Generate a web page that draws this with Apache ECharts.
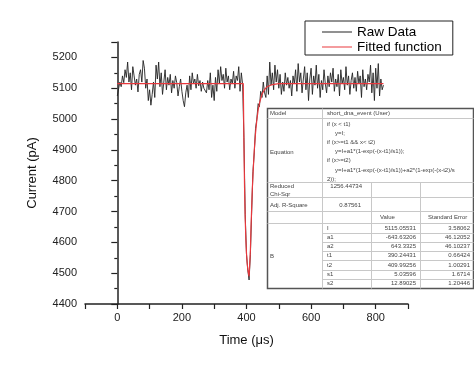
<!DOCTYPE html>
<html>
<head>
<meta charset="utf-8">
<script src="https://cdn.jsdelivr.net/npm/echarts@6/dist/echarts.min.js"></script>
<style>
html,body{margin:0;padding:0;background:#fff;}
#chart{width:474px;height:365px;}
</style>
</head>
<body>
<div id="chart"></div>
<script>
// ---- data ----
var rawStep = 4; // µs between samples, starting at 0
var rawValues = [
5075,5098,5120,5105,5140,5118,5160,5135,5185,5120,
5150,5095,5170,5140,5110,5130,5088,5145,5160,5120,
5190,5165,5100,5130,5060,5095,5045,5080,5120,5070,
5175,5130,5185,5105,5150,5080,5120,5160,5095,5135,
5110,5145,5085,5125,5100,5140,5118,5075,5105,5130,
5090,5060,5040,5085,5110,5070,5140,5095,5150,5115,
5130,5100,5145,5108,5125,5090,5120,5100,5105,5085,
5125,5095,5150,5070,5110,5060,5135,5090,5160,5115,
5170,5125,5145,5100,5165,5120,5140,5095,5130,5115,
5155,5100,5140,5125,5170,5090,5150,
5112,
4940,4690,4560,4510,4478,4560,4700,4830,4890,4970,5000,5050,5040,5090,5070,5120,
5085,5070,5140,5080,5185,5110,5150,5095,5175,5120,5160,
5100,5145,5080,5120,5090,5150,5110,5135,5100,5125,
5075,5140,5115,5160,5090,5180,5120,5150,5085,5130,
5170,5095,5150,5060,5130,5165,5080,5140,5110,5175,
5100,5145,5070,5125,5095,5160,5115,5085,5140,5105,
5150,5120,5165,5090,5130,5105,5145,5075,5160,5115,
5135,5095,5170,5110,5140,5080,5125,5150,5100,5135,
5090,5155,5115,5140,5070,5160,5105,5130,5095,5145,
5120,5175,5085,5150,5060,5165,5100,5180,5075,5130,
5095,5110
];
var fitTimes  = [0,390,392,394,396,398,400,402,404,406,408,410,412,414,416,418,420,424,428,432,436,440,448,456,464,480,500,824];
var fitValues = [5115,5115,4927,4776,4677,4609,4564,4534,4513,4500,4490,4484,4572,4649,4711,4772,4819,4898,4955,4997,5029,5051,5081,5096,5105,5112,5115,5115];
var seriesNames = ['Raw Data','Fitted function'];

// table content
var modelRow = ['Model','short_dna_event (User)'];
var equationLabel = 'Equation';
var equationLines = [
'if (x < t1)',
'    y=I;',
'if (x>=t1 && x< t2)',
'    y=I+a1*(1-exp(-(x-t1)/s1));',
'if (x>=t2)',
'    y=I+a1*(1-exp(-(x-t1)/s1))+a2*(1-exp(-(x-t2)/s',
'2));'
];
var chiLabel = ['Reduced','Chi-Sqr'];
var chiValue = '1256.44734';
var r2Label = 'Adj. R-Square';
var r2Value = '0.87561';
var headerCols = ['Value','Standard Error'];
var groupLabel = 'B';
var paramNames = ['I','a1','a2','t1','t2','s1','s2'];
var paramValues = ['5115.05531','-643.63206','643.3325','390.24431','409.99256','5.03596','12.89025'];
var paramErrors = ['3.58062','46.12052','46.10237','0.66424','1.00291','1.6714','1.20446'];

// ---- build ----
var rawData = rawValues.map(function(v,i){ return [i*rawStep, v]; });
var fitData = fitTimes.map(function(t,i){ return [t, fitValues[i]]; });

var FONT = 'Liberation Sans, Arial, sans-serif';
var TF = '6px Liberation Sans, Arial, sans-serif';
var TC = '#444';
var tbl = [];
function txt(s, x, y, align){
  tbl.push({type:'text', z:101, style:{text:s, x:x, y:y, font:TF, fill:TC, textAlign:align||'left', textVerticalAlign:'middle', verticalAlign:'middle'}});
}
function ln(x1,y1,x2,y2,c,w){
  tbl.push({type:'line', z:101, shape:{x1:x1,y1:y1,x2:x2,y2:y2}, style:{stroke:c||'#c8c8c8', lineWidth:w||1}});
}
var L=267.5, R=473.5, T=108.5, B=288.5, C1=322.5, C2=371.5, C3=420.5;
tbl.push({type:'rect', z:100, shape:{x:L,y:T,width:R-L,height:B-T}, style:{fill:'#fff', stroke:'#555', lineWidth:1.5}});
// horizontal lines
var rowModelB=118.5, rowEqB=182.5, rowChiB=197.5, rowR2B=211.5, rowHeadB=223.5, rowH=9.2;
ln(L,rowModelB,R,rowModelB);
ln(L,rowEqB,R,rowEqB);
ln(L,rowChiB,R,rowChiB);
ln(L,rowR2B,R,rowR2B);
ln(L,rowHeadB,R,rowHeadB);
for(var k=1;k<paramNames.length;k++){ var yy=Math.round(rowHeadB+k*rowH)+0.5; ln(C1,yy,R,yy); }
// vertical lines
ln(C1,T,C1,B);
ln(C2,rowEqB,C2,B);
ln(C3,rowEqB,C3,B);
// texts
txt(modelRow[0],270,113.5);
txt(modelRow[1],327,113.5);
for(var e=0;e<equationLines.length;e++){ txt(equationLines[e].replace(/^ {4}/,''), equationLines[e].indexOf('    ')===0?335:327, 124+e*9.2); }
txt(equationLabel,270,152);
txt(chiLabel[0],270,186);
txt(chiLabel[1],270,194.5);
txt(chiValue,362,186,'right');
txt(r2Label,270,205);
txt(r2Value,361,205,'right');
txt(headerCols[0],380,217.5);
txt(headerCols[1],428,217.5);
txt(groupLabel,270,256);
for(var p=0;p<paramNames.length;p++){
  var cy = rowHeadB + rowH*(p+0.5);
  txt(paramNames[p],327,cy);
  txt(paramValues[p],416,cy,'right');
  txt(paramErrors[p],470,cy,'right');
}

var chart = echarts.init(document.getElementById('chart'), null, {renderer:'canvas'});
chart.setOption({
  animation:false,
  backgroundColor:'#fff',
  grid:{left:85,right:66,top:42,bottom:61,containLabel:false},
  legend:{
    data:seriesNames, orient:'vertical', left:305, top:21,
    icon:'rect', itemWidth:30, itemHeight:1, itemGap:1, padding:[4,11,1,17],
    borderColor:'#222', borderWidth:1, backgroundColor:'#fff',
    textStyle:{fontFamily:FONT, fontSize:13.5, color:'#000', lineHeight:14}
  },
  xAxis:{
    type:'value', min:-100, max:900, interval:100,
    name:'Time (\u03bcs)', nameLocation:'middle', nameGap:30,
    nameTextStyle:{fontFamily:FONT, fontSize:13, color:'#111'},
    axisLine:{lineStyle:{color:'#222', width:1.5}},
    axisTick:{inside:false, length:5, lineStyle:{color:'#222', width:1.2}},
    axisLabel:{margin:8, fontFamily:FONT, fontSize:11, color:'#222',
      formatter:function(v){ return (v%200===0 && v>=0 && v<=800) ? String(v) : ''; }},
    splitLine:{show:false}
  },
  yAxis:{
    type:'value', min:4400, max:5250, interval:100,
    name:'Current (pA)', nameLocation:'middle', nameGap:46,
    nameTextStyle:{fontFamily:FONT, fontSize:13, color:'#111'},
    axisLine:{show:true, lineStyle:{color:'#222', width:1.5}},
    axisTick:{show:true, inside:false, length:6, lineStyle:{color:'#222', width:1.2}},
    minorTick:{show:true, splitNumber:2, length:3, lineStyle:{color:'#222', width:1.2}},
    axisLabel:{margin:8, fontFamily:FONT, fontSize:11, color:'#222',
      formatter:function(v){ return v<=5200 ? String(v) : ''; }},
    splitLine:{show:false}
  },
  series:[
    {name:seriesNames[0], type:'line', data:rawData, symbol:'none', z:2,
     lineStyle:{color:'#222', width:0.9}, itemStyle:{color:'#222'}},
    {name:seriesNames[1], type:'line', data:fitData, symbol:'none', z:3,
     lineStyle:{color:'#e8383d', width:1.2}, itemStyle:{color:'#e8383d'}}
  ],
  graphic:[{type:'group', z:100, children:tbl}]
});
</script>
</body>
</html>
